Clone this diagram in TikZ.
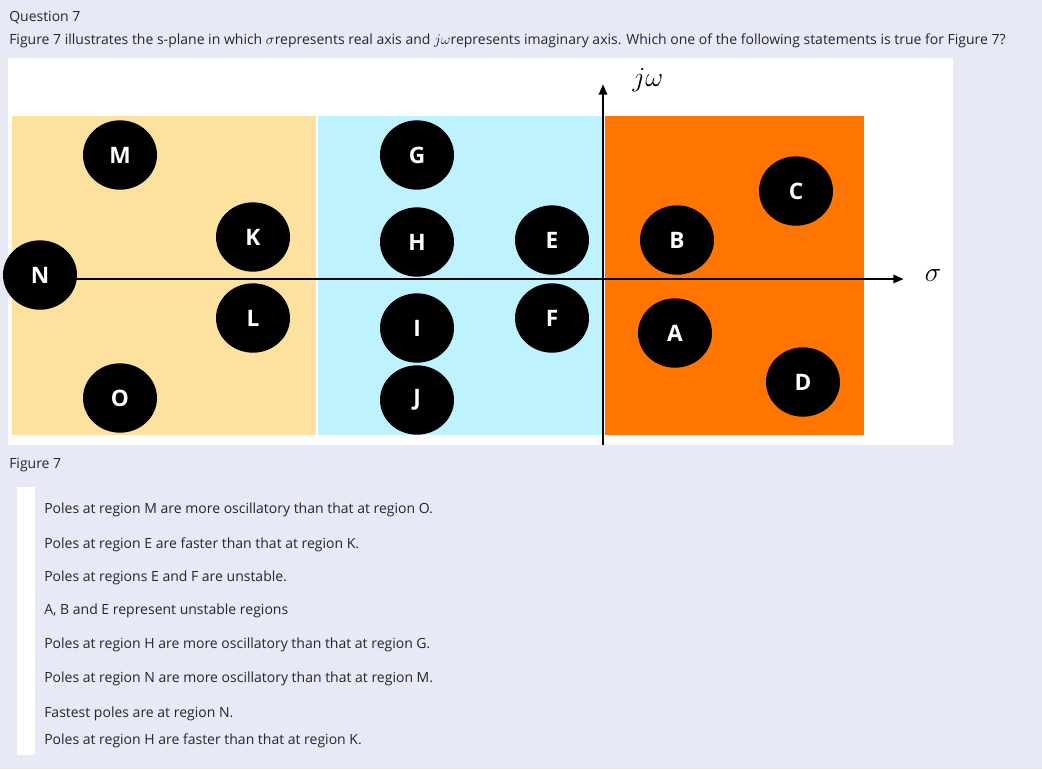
\documentclass[tikz,border=0pt]{standalone}
\usepackage{fontspec}
\setmainfont{Open Sans}
\usetikzlibrary{arrows.meta}
\begin{document}
\begin{tikzpicture}[x=0.75pt,y=-0.75pt,
  pole/.style={ellipse,fill=black,minimum width=55.5pt,minimum height=52pt,inner sep=0pt,text=white,font=\fontsize{17}{17}\selectfont\bfseries},
  txt/.style={anchor=west,inner sep=0pt,text=black!85,font=\fontsize{10.5}{12}\selectfont},
  ax/.style={line width=2pt,-{Triangle[length=8pt,width=6pt]}}]
\usetikzlibrary{shapes.geometric}
\fill[cyan!3!white!94!blue] (0,0) rectangle (1042,769);
\useasboundingbox (0,0) rectangle (1042,769);
\fill[white] (8,58) rectangle (953,445);
\fill[yellow!40!orange!35!white] (12,116) rectangle (316,435);
\fill[blue!20!cyan!25!white] (318,116) rectangle (603,435);
\fill[orange!80!red!90!yellow] (605,116) rectangle (864,435);
\node[txt] (q) at (9,18) {Question 7};
\node[txt] (q2) at (9,41) {Figure 7 illustrates the s-plane in which $\sigma$represents real axis and $j\omega$represents imaginary axis. Which one of the following statements is true for Figure 7?};
\coordinate (vb) at (603,445); \coordinate (vt) at (603,84);
\coordinate (hl) at (60,279); \coordinate (hr) at (904,279);
\draw[ax] (vb) -- (vt);
\draw[ax] (hl) -- (hr);
\node[font=\fontsize{22}{22}\selectfont] (jw) at (648,80) {$j\omega$};
\node[font=\fontsize{22}{22}\selectfont] (sg) at (933,276) {$\sigma$};
\foreach \n/\x/\y in {M/120/155,G/417/155,C/796/191,K/253/237,H/417/242,E/552/240,B/677/240,N/40/275,L/253/318,I/417/328,F/552/318,A/675/333,D/803/382,O/120/398,J/417/400}
  \node[pole] (\n) at (\x,\y) {\n};
\node[txt] (fig) at (9,465) {Figure 7};
\fill[white] (17,487) rectangle (35,755);
\foreach \t/\y [count=\i] in {{Poles at region M are more oscillatory than that at region O.}/510,{Poles at region E are faster than that at region K.}/545,{Poles at regions E and F are unstable.}/578,{A, B and E represent unstable regions}/611,{Poles at region H are more oscillatory than that at region G.}/645,{Poles at region N are more oscillatory than that at region M.}/679,{Fastest poles are at region N.}/714,{Poles at region H are faster than that at region K.}/741}
  \node[txt] (opt\i) at (44,\y) {\t};
\end{tikzpicture}
\end{document}
